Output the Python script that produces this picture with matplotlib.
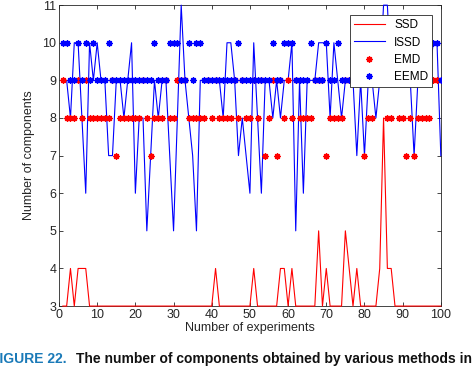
import numpy as np
import matplotlib.pyplot as plt

plt.rcParams["font.family"] = ["Liberation Sans", "DejaVu Sans"]

experiments = list(range(1, 101))

ssd = [3, 3, 4, 3, 4, 4, 4, 3, 3, 3,
       3, 3, 3, 3, 3, 3, 3, 3, 3, 3,
       3, 3, 3, 3, 3, 3, 3, 3, 3, 3,
       3, 3, 3, 3, 3, 3, 3, 3, 3, 3,
       4, 3, 3, 3, 3, 3, 3, 3, 3, 3,
       4, 3, 3, 3, 3, 3, 3, 4, 4, 3,
       4, 3, 3, 3, 3, 3, 3, 5, 3, 4,
       3, 3, 3, 3, 5, 4, 3, 4, 3, 3,
       3, 3, 3, 4, 8, 4, 4, 3, 3, 3,
       3, 3, 3, 3, 3, 3, 3, 3, 3, 3]

issd = [9, 9, 8, 10, 10, 8, 6, 10, 9, 10,
        9, 9, 7, 7, 9, 9, 8, 9, 10, 6,
        8, 8, 5, 7, 9, 8, 9, 9, 7, 5,
        8, 11, 9, 8, 7, 5, 9, 9, 9, 9,
        9, 9, 8, 10, 10, 9, 7, 8, 7, 6,
        10, 8, 6, 9, 9, 8, 9, 8, 9, 9,
        10, 5, 9, 6, 9, 9, 9, 10, 10, 10,
        8, 10, 9, 8, 9, 9, 9, 7, 9, 7,
        9, 9, 8, 9, 11, 11, 9, 9, 9, 9,
        9, 9, 7, 9, 9, 9, 9, 10, 10, 7]

emd = [9, 8, 8, 8, 9, 8, 9, 8, 8, 8,
       8, 8, 8, 9, 7, 8, 8, 8, 8, 8,
       8, 9, 8, 7, 8, 8, 8, 9, 8, 8,
       9, 9, 9, 8, 8, 8, 8, 8, 9, 8,
       9, 8, 8, 8, 8, 9, 8, 9, 8, 8,
       9, 8, 9, 7, 8, 9, 7, 9, 8, 9,
       8, 9, 8, 8, 8, 8, 9, 9, 9, 7,
       8, 8, 8, 8, 9, 9, 9, 9, 9, 7,
       8, 8, 9, 9, 9, 8, 8, 9, 8, 8,
       7, 8, 7, 8, 8, 8, 8, 9, 9, 9]

eemd = [10, 10, 9, 9, 10, 9, 10, 9, 10, 9,
        9, 9, 10, 9, 9, 9, 9, 9, 9, 9,
        9, 9, 9, 9, 10, 9, 9, 9, 10, 10,
        10, 9, 9, 10, 9, 10, 10, 9, 9, 9,
        9, 9, 9, 9, 9, 9, 10, 9, 9, 9,
        9, 9, 9, 9, 9, 10, 9, 9, 10, 10,
        10, 9, 9, 9, 9, 10, 9, 9, 9, 10,
        9, 9, 10, 9, 9, 9, 10, 9, 9, 9,
        9, 9, 9, 9, 9, 9, 9, 9, 9, 9,
        9, 9, 9, 9, 9, 9, 9, 10, 10, 9]

asterisk = (8, 2, 0)

fig = plt.figure(figsize=(4.74, 3.67), dpi=100)
ax = fig.add_axes([0.1245, 0.166, 0.8055, 0.820])

ax.plot(experiments, ssd, color="#ff0000", linewidth=0.8, label="SSD",
        clip_on=False, zorder=3)
ax.plot(experiments, issd, color="#0000ff", linewidth=0.8, label="ISSD",
        clip_on=False, zorder=3)
ax.plot(experiments, emd, linestyle="none", marker=asterisk, markersize=4.5,
        markeredgewidth=1.0, color="#ff0000", label="EMD", zorder=4)
ax.plot(experiments, eemd, linestyle="none", marker=asterisk, markersize=4.5,
        markeredgewidth=1.0, color="#0000ff", label="EEMD", zorder=4)

ax.set_xlim(0, 100)
ax.set_ylim(3, 11)
ax.set_xticks(range(0, 101, 10))
ax.set_yticks(range(3, 12))
ax.tick_params(direction="in", top=True, right=True, length=3, width=0.6,
               labelsize=9, colors="#262626", pad=2)
for sp in ax.spines.values():
    sp.set_color("#262626")
    sp.set_linewidth(0.6)

ax.set_xlabel("Number of experiments", fontsize=9, color="#262626", labelpad=1)
ax.set_ylabel("Number of components", fontsize=9, color="#262626", labelpad=5)

leg = ax.legend(loc="upper right", bbox_to_anchor=(0.978, 0.967), fontsize=8.5,
                frameon=True, fancybox=False, edgecolor="#262626",
                handlelength=2.6, borderpad=0.35, labelspacing=0.45,
                handletextpad=0.8, borderaxespad=0, framealpha=1)
leg.get_frame().set_linewidth(0.6)

# caption strip, cut at the picture edges as in the source scan
fig.text(-0.018, 0.040, "FIGURE 22.", color="#1a7ab8", fontsize=10,
         fontweight="bold", ha="left", va="top")
fig.text(0.160, 0.040, "The number of components obtained by various methods in",
         color="#111111", fontsize=10, fontweight="bold", ha="left", va="top")

fig.savefig("out.png", dpi=100)
